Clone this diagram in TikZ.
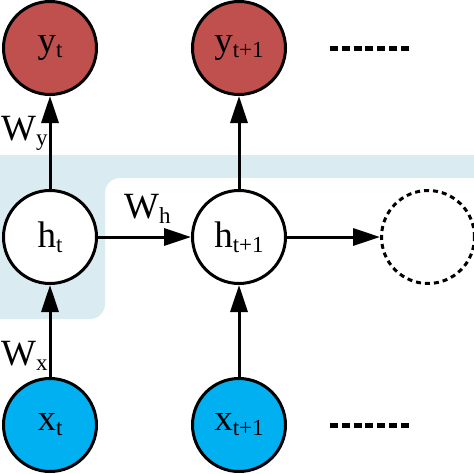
\documentclass[tikz,border=0pt]{standalone}
\usepackage{fontspec}
\setmainfont{Liberation Serif}
\usetikzlibrary{arrows.meta}
\definecolor{outred}{RGB}{192,80,77}
\definecolor{inblue}{RGB}{0,176,240}
\definecolor{bandblue}{RGB}{218,236,242}
\newcommand{\lowsub}[1]{\raisebox{-5pt}{\fontsize{23}{23}\selectfont #1}}
\begin{document}
\begin{tikzpicture}[x=1pt,y=-1pt,
  unit/.style={circle,draw=black,line width=3pt,minimum size=93pt,inner sep=0pt,
    font=\fontsize{37}{37}\selectfont},
  outunit/.style={unit,fill=outred},
  inunit/.style={unit,fill=inblue},
  hidunit/.style={unit,fill=white},
  ghost/.style={circle,draw=black,line width=3pt,dash pattern=on 5pt off 4pt,minimum size=93pt,inner sep=0pt},
  conn/.style={line width=3pt,-{Triangle[length=27pt,width=17pt]}},
  wlabel/.style={inner sep=0pt,anchor=base west,font=\fontsize{37}{37}\selectfont},
  dots/.style={line width=5pt,dash pattern=on 8pt off 3.8pt}]
\useasboundingbox (0,0) rectangle (474,474);
\fill[bandblue,rounded corners=15pt] (-30,155) -- (510,155) -- (510,178) -- (105,178) -- (105,319) -- (-30,319) -- cycle;
\node[outunit] (y1) at (50,48) {y\lowsub{t}};
\node[outunit] (y2) at (239,48) {y\lowsub{t+1}};
\node[hidunit] (h1) at (50,237) {h\lowsub{t}};
\node[hidunit] (h2) at (239,237) {h\lowsub{t+1}};
\node[ghost] (h3) at (428,237) {};
\node[inunit] (x1) at (50,425) {x\lowsub{t}};
\node[inunit] (x2) at (239,425) {x\lowsub{t+1}};
\draw[conn] (h1) -- (y1);
\draw[conn] (h2) -- (y2);
\draw[conn] (x1) -- (h1);
\draw[conn] (x2) -- (h2);
\draw[conn] (h1) -- (h2);
\draw[conn] (h2) -- (h3);
\coordinate (d1a) at (330,48); \coordinate (d1b) at (410,48);
\coordinate (d2a) at (330,425); \coordinate (d2b) at (410,425);
\draw[dots] (d1a) -- (d1b);
\draw[dots] (d2a) -- (d2b);
\node[wlabel] (wy) at (1,140) {W\lowsub{y}};
\node[wlabel] (wh) at (124,218) {W\lowsub{h}};
\node[wlabel] (wx) at (1,365) {W\lowsub{x}};
\end{tikzpicture}
\end{document}
